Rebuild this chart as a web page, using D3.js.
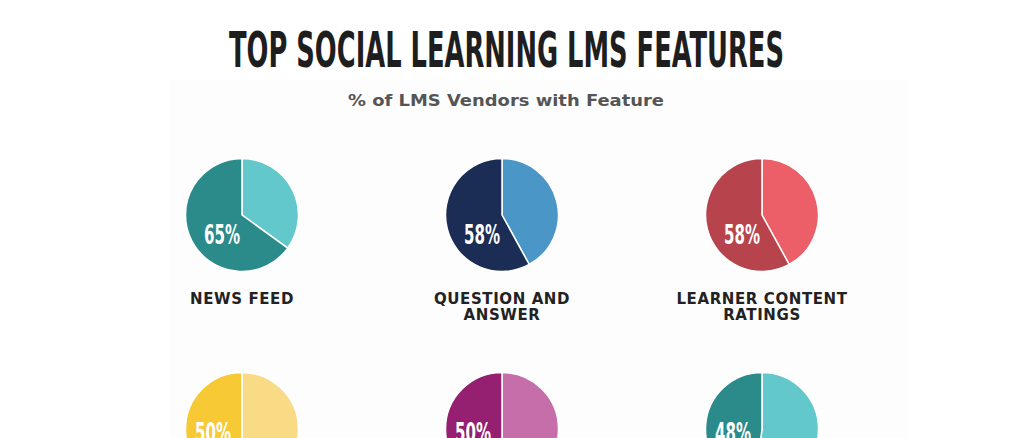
<!DOCTYPE html>
<html>
<head>
<meta charset="utf-8">
<script src="https://cdn.jsdelivr.net/npm/d3@7"></script>
<style>
  html, body { margin: 0; padding: 0; background: #fff; }
  svg { display: block; }
</style>
</head>
<body>
<div id="chart"></div>
<script>
const title = 'TOP SOCIAL LEARNING LMS FEATURES';
const subtitle = '% of LMS Vendors with Feature';
const values = [65, 58, 58, 50, 50, 48];
const labels = [
  ['NEWS FEED'],
  ['QUESTION AND', 'ANSWER'],
  ['LEARNER CONTENT', 'RATINGS'],
  [], [], []
];
const darkColors = ['#2b8a8a', '#1b2d55', '#b7444c', '#f7c934', '#951f70', '#2b8a8a'];
const lightColors = ['#63c8cc', '#4a97c7', '#ec5f69', '#fadb85', '#c56ea9', '#63c8cc'];

function createPies(id) {
  let width = 1030,
    height = 438,
    radius = 56.5;

  let svg = d3.select('#' + id)
    .append('svg')
    .attr('width', width)
    .attr('height', height);

  // faint panel behind the pies
  svg.append('rect')
    .attr('x', 170)
    .attr('y', 80)
    .attr('width', 738)
    .attr('height', height - 80)
    .style('fill', '#fdfdfd');

  svg.append('text')
    .text(title)
    .attr('x', 229)
    .attr('y', 67)
    .attr('textLength', 555)
    .attr('lengthAdjust', 'spacingAndGlyphs')
    .style('font-family', '"DejaVu Sans Condensed", sans-serif')
    .style('font-weight', 'bold')
    .style('font-size', '49px')
    .style('fill', '#1e1e1e');

  svg.append('text')
    .text(subtitle)
    .attr('x', 348)
    .attr('y', 106)
    .attr('textLength', 316)
    .attr('lengthAdjust', 'spacingAndGlyphs')
    .style('font-family', '"DejaVu Sans", sans-serif')
    .style('font-weight', 'bold')
    .style('font-size', '16px')
    .style('fill', '#555');

  let x = d3.scalePoint()
    .domain([0, 1, 2])
    .range([242, 762]);

  let y = d3.scalePoint()
    .domain([0, 1])
    .range([215, 429]);

  // percentage text offset per row
  let textOffset = [[-20, 20], [-29, 4]];

  let pie = d3.pie()
    .sort(null)
    .value((d) => d);

  let arc = d3.arc()
    .innerRadius(0)
    .outerRadius(radius);

  let group = svg.selectAll('.pie-group')
    .data(values)
    .enter()
    .append('g')
    .attr('class', 'pie-group')
    .attr('transform', (d, i) =>
      `translate(${x(i % 3)}, ${y(Math.floor(i / 3))})`);

  group.selectAll('path')
    .data((d, i) => pie([100 - d, d]).map((s, k) => ({ s: s, color: k ? darkColors[i] : lightColors[i] })))
    .enter()
    .append('path')
    .attr('d', (d) => arc(d.s))
    .style('fill', (d) => d.color)
    .style('stroke', '#fff')
    .style('stroke-width', 1.5)
    .style('stroke-linejoin', 'round');

  group.append('text')
    .text((d) => d + '%')
    .attr('x', (d, i) => textOffset[Math.floor(i / 3)][0] - 18)
    .attr('y', (d, i) => textOffset[Math.floor(i / 3)][1])
    .attr('dy', '0.36em')
    .attr('textLength', 36)
    .attr('lengthAdjust', 'spacingAndGlyphs')
    .style('font-family', '"DejaVu Sans Condensed", sans-serif')
    .style('font-weight', 'bold')
    .style('font-size', '26px')
    .style('fill', '#fff');

  group.each(function (d, i) {
    d3.select(this).selectAll('.label')
      .data(labels[i])
      .enter()
      .append('text')
      .attr('class', 'label')
      .text((t) => t)
      .attr('x', 0)
      .attr('y', (t, k) => 89 + k * 16)
      .attr('text-anchor', 'middle')
      .style('font-family', '"DejaVu Sans", sans-serif')
      .style('font-weight', 'bold')
      .style('font-size', '15px')
      .style('letter-spacing', '0.6px')
      .style('fill', '#222');
  });
}

createPies('chart');
</script>
</body>
</html>
